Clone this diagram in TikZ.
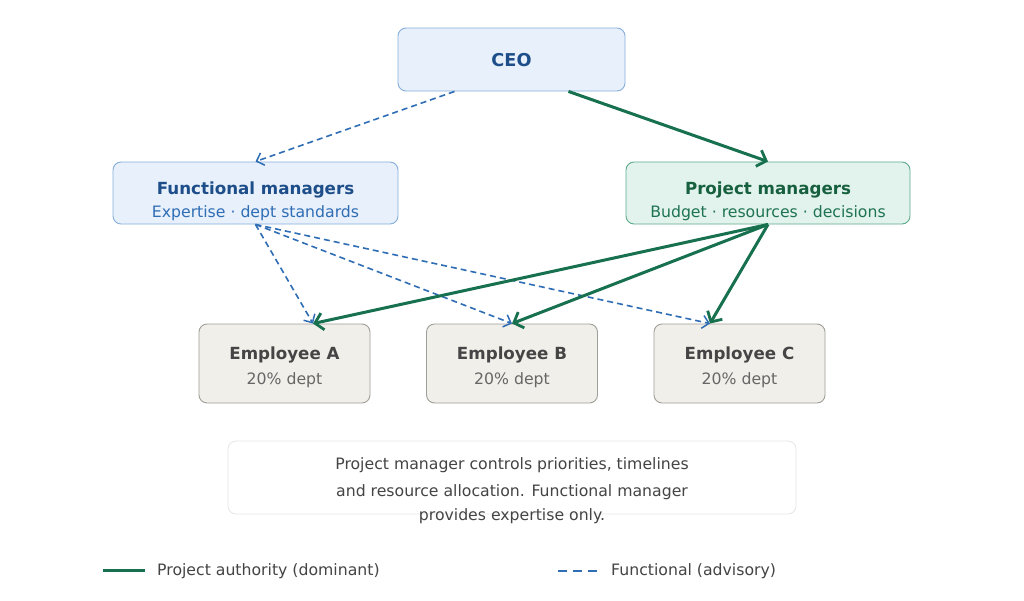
\documentclass[tikz,border=0pt]{standalone}
\usepackage{fontspec}
\setmainfont{DejaVu Sans}
\usetikzlibrary{arrows.meta,calc}
\definecolor{bluefill}{HTML}{E7F0FB}
\definecolor{blueborder}{HTML}{86AEDB}
\definecolor{bluetitle}{HTML}{1D4E89}
\definecolor{bluesub}{HTML}{2F6DB5}
\definecolor{blueline}{HTML}{2F6DB5}
\definecolor{greenfill}{HTML}{E1F3EC}
\definecolor{greenborder}{HTML}{5DAA8C}
\definecolor{greentitle}{HTML}{17603F}
\definecolor{greensub}{HTML}{1F7352}
\definecolor{greenline}{HTML}{17704E}
\definecolor{empfill}{HTML}{F1EFEA}
\definecolor{empborder}{HTML}{A09E99}
\definecolor{emptitle}{HTML}{454545}
\definecolor{empsub}{HTML}{666666}
\definecolor{noteborder}{HTML}{E6E6E6}
\definecolor{notetext}{HTML}{444444}
\tikzset{
  box/.style={draw, rounded corners=8pt, line width=0.9pt, inner sep=0pt},
  bluebox/.style={box, fill=bluefill, draw=blueborder},
  greenbox/.style={box, fill=greenfill, draw=greenborder},
  empbox/.style={box, fill=empfill, draw=empborder, minimum width=171pt, minimum height=79pt},
  ttl/.style={anchor=base, inner sep=0pt, font=\fontsize{16.7}{20}\selectfont\bfseries},
  sub/.style={anchor=base, inner sep=0pt, font=\fontsize{15.7}{19}\selectfont},
  txt/.style={anchor=base, inner sep=0pt, font=\fontsize{15.7}{19}\selectfont, text=notetext},
  authority/.style={draw=greenline, line width=3pt, -{Straight Barb[length=8pt,width=17pt,line width=2.8pt]}},
  advisory/.style={draw=blueline, line width=1.6pt, dash pattern=on 6pt off 4pt, -{Straight Barb[length=6.5pt,width=13pt,line width=1.5pt]}},
}
\begin{document}
\begin{tikzpicture}[x=1pt,y=-1pt]
\useasboundingbox[fill=white] (0,0) rectangle (1024,600);
% boxes
\node[bluebox, minimum width=227pt, minimum height=63pt] (ceo) at (511.5,59.5) {};
\node[bluebox, minimum width=285pt, minimum height=62pt] (fm) at (255.5,193) {};
\node[greenbox, minimum width=284pt, minimum height=62pt] (pm) at (768,193) {};
\node[empbox] (ea) at (284.5,363.5) {};
\node[empbox] (eb) at (512,363.5) {};
\node[empbox] (ec) at (739.5,363.5) {};
\node[draw=noteborder, line width=0.8pt, rounded corners=8pt, minimum width=568pt, minimum height=73pt, inner sep=0pt] (note) at (512,477.5) {};
% texts
\node[ttl, text=bluetitle, font=\fontsize{17.7}{20}\selectfont\bfseries] (ceot) at (511.5,66) {CEO};
\node[ttl, text=bluetitle] (fmt) at (255.5,194.5) {Functional managers};
\node[sub, text=bluesub] (fms) at (255.5,217) {Expertise · dept standards};
\node[ttl, text=greentitle] (pmt) at (768,194.5) {Project managers};
\node[sub, text=greensub] (pms) at (768,217) {Budget · resources · decisions};
\node[ttl, text=emptitle] (eat) at (284.5,359.5) {Employee A};
\node[sub, text=empsub] (eas) at (284.5,384) {20\% dept};
\node[ttl, text=emptitle] (ebt) at (512,359.5) {Employee B};
\node[sub, text=empsub] (ebs) at (512,384) {20\% dept};
\node[ttl, text=emptitle] (ect) at (739.5,359.5) {Employee C};
\node[sub, text=empsub] (ecs) at (739.5,384) {20\% dept};
\node[txt] (n1) at (512,469.5) {Project manager controls priorities, timelines};
\node[txt] (n2) at (512,496.5) {and resource allocation. Functional manager};
\node[txt] (n3) at (512,520.5) {provides expertise only.};
% connectors
\draw[advisory] ($(ceo.south west)!0.25!(ceo.south east)$) -- (fm.north);
\draw[authority] ($(ceo.south west)!0.75!(ceo.south east)$) -- (pm.north);
\draw[advisory] (fm.south) -- ($(ea.north)+(28.5,0)$);
\draw[advisory] (fm.south) -- (eb.north);
\draw[advisory] (fm.south) -- ($(ec.north)+(-29.5,0)$);
\draw[authority] (pm.south) -- ($(ea.north)+(28.5,0)$);
\draw[authority] (pm.south) -- (eb.north);
\draw[authority] (pm.south) -- ($(ec.north)+(-29.5,0)$);
% legend
\node[txt, anchor=base west] (lg1) at (157,575) {Project authority (dominant)};
\node[txt, anchor=base west] (lg2) at (611,575) {Functional (advisory)};
\draw[greenline, line width=3pt] ($(lg1.west)+(-12,0)$) -- ++(-42,0);
\draw[blueline, line width=1.8pt, dash pattern=on 9pt off 6pt] ($(lg2.west)+(-14,0)$) -- ++(-39,0);
\end{tikzpicture}
\end{document}
